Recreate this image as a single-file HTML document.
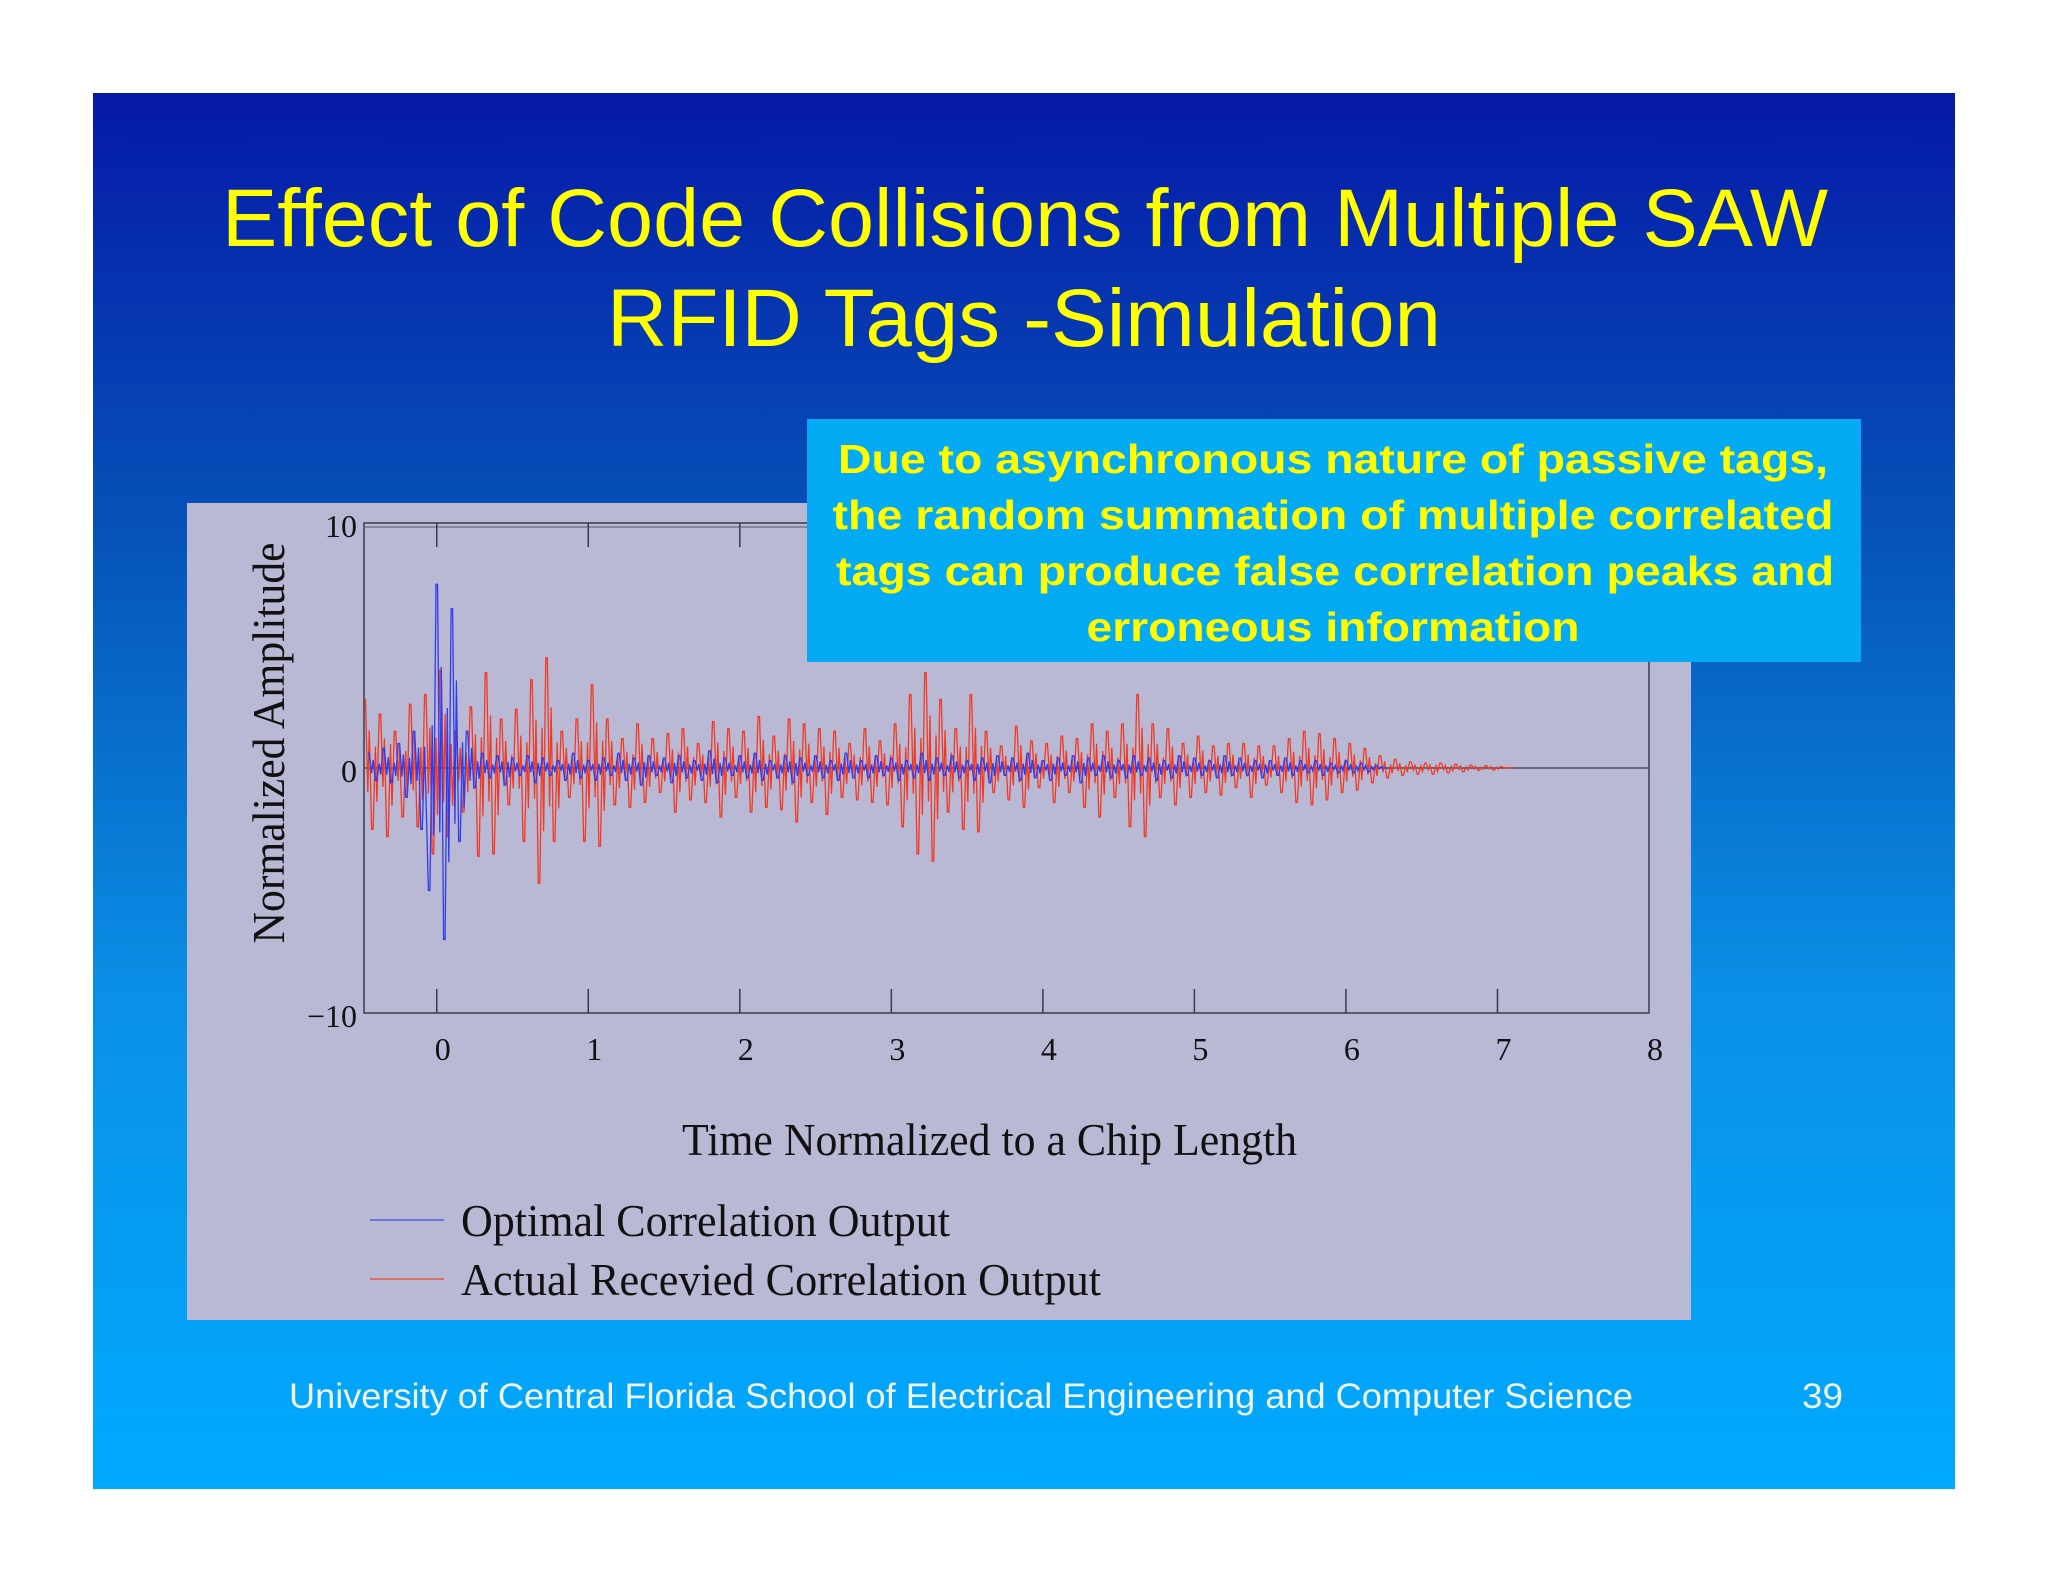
<!DOCTYPE html>
<html><head><meta charset="utf-8"><style>
html,body{margin:0;padding:0;background:#fff;}
svg{display:block;}
</style></head><body>
<svg id="slide" width="2048" height="1582" viewBox="0 0 2048 1582" xmlns="http://www.w3.org/2000/svg">
<defs>
<linearGradient id="bg" x1="0" y1="0" x2="0" y2="1">
<stop offset="0" stop-color="#0619a8"/>
<stop offset="0.3" stop-color="#0650b8"/>
<stop offset="0.65" stop-color="#0a90e6"/>
<stop offset="1" stop-color="#00aaff"/>
</linearGradient>
</defs>
<rect x="93" y="93" width="1862" height="1396" fill="url(#bg)"/>
<g fill="#ffff00" font-family="'Liberation Sans', Arial, sans-serif" font-size="82" text-anchor="middle">
<text x="1025" y="246" textLength="1606" lengthAdjust="spacingAndGlyphs">Effect of Code Collisions from Multiple SAW</text>
<text x="1024" y="346" textLength="834" lengthAdjust="spacingAndGlyphs">RFID Tags -Simulation</text>
</g>
<rect x="187" y="503" width="1504" height="817" fill="#b9b9d5"/>
<g id="plot"></g>
<g>
<rect x="807" y="419" width="1054" height="243" fill="#04aaf4"/>
<g fill="#ffff00" font-family="'Liberation Sans', Arial, sans-serif" font-size="41" font-weight="bold" text-anchor="middle">
<text x="1333" y="473" textLength="990" lengthAdjust="spacingAndGlyphs">Due to asynchronous nature of passive tags,</text>
<text x="1333" y="529" textLength="1001" lengthAdjust="spacingAndGlyphs">the random summation of multiple correlated</text>
<text x="1335" y="585" textLength="998" lengthAdjust="spacingAndGlyphs">tags can produce false correlation peaks and</text>
<text x="1333" y="641" textLength="493" lengthAdjust="spacingAndGlyphs">erroneous information</text>
</g></g>
<g fill="#f0f6ff" font-family="'Liberation Sans', Arial, sans-serif" font-size="35">
<text x="289" y="1408" textLength="1344" lengthAdjust="spacingAndGlyphs">University of Central Florida School of Electrical Engineering and Computer Science</text>
<text x="1802" y="1408" textLength="41" lengthAdjust="spacingAndGlyphs">39</text>
</g>
</svg>
<script>
const xTicks = [0,1,2,3,4,5,6,7,8];
const yTicks = [10,0,-10];
const xDomain = [-0.48, 8];
const yDomain = [-10, 10];
const redStart = -0.48, redStep = 0.05;
const redValues = [2.8,-2.5,2.2,-2.8,1.5,-2.0,2.6,-2.4,3.0,-3.5,4.0,-2.8,1.5,-1.8,2.5,-3.6,3.9,-3.5,2.0,-1.5,2.4,-3.0,3.6,-4.7,4.5,-3.0,1.5,-1.2,2.0,-3.0,3.4,-3.2,2.0,-1.5,1.2,-1.6,1.8,-1.4,1.2,-1.0,1.4,-1.8,1.6,-1.3,1.0,-1.4,1.9,-2.0,1.6,-1.2,1.5,-1.8,2.1,-1.6,1.3,-1.7,2.0,-2.2,1.8,-1.4,1.6,-1.9,1.5,-1.2,1.0,-1.3,1.6,-1.4,1.1,-1.5,1.8,-2.4,3.0,-3.5,3.9,-3.8,2.8,-1.8,1.6,-2.5,3.0,-2.6,1.5,-1.0,0.9,-1.3,1.7,-1.6,1.1,-0.8,1.0,-1.4,1.3,-1.0,1.2,-1.6,1.8,-2.0,1.5,-1.2,1.8,-2.4,3.0,-2.8,1.8,-1.2,1.6,-1.5,1.0,-1.2,1.3,-1.0,0.9,-1.1,1.0,-0.8,1.0,-1.2,0.9,-0.7,0.9,-1.0,1.2,-1.4,1.5,-1.5,1.4,-1.3,1.2,-1.0,1.0,-0.9,0.8,-0.6,0.5,-0.4,0.35,-0.3,0.25,-0.25,0.2,-0.25,0.2,-0.2,0.15,-0.15,0.12,-0.1,0.1,-0.08,0.05,0];
const blueStart = -0.455, blueStep = 0.05;
const blueValues = [0.6,-0.5,0.8,-0.6,1.0,-1.2,1.5,-2.5,-5.0,7.5,-7.0,6.5,-3.0,1.5,-0.8,0.6,-0.4,0.5,-0.7,0.4,-0.3,0.5,-0.6,0.4,-0.3,0.3,-0.5,0.6,-0.4,0.3,-0.5,0.4,-0.3,0.6,-0.5,0.4,-0.7,0.5,-0.3,0.4,-0.6,0.5,-0.4,0.3,-0.5,0.7,-0.6,0.4,-0.3,0.5,-0.4,0.6,-0.5,0.3,-0.4,0.5,-0.6,0.4,-0.3,0.5,-0.4,0.3,-0.5,0.6,-0.4,0.3,-0.4,0.5,-0.3,0.4,-0.5,0.3,-0.4,0.6,-0.5,0.4,-0.3,0.5,-0.4,0.3,-0.5,0.4,-0.6,0.5,-0.3,0.4,-0.5,0.6,-0.4,0.3,-0.5,0.4,-0.3,0.5,-0.6,0.4,-0.3,0.5,-0.4,0.3,-0.4,0.5,-0.3,0.4,-0.5,0.3,-0.4,0.5,-0.3,0.4,-0.3,0.3,-0.4,0.5,-0.3,0.4,-0.3,0.3,-0.4,0.3,-0.3,0.4,-0.3,0.3,-0.2,0.3,-0.3,0.2,-0.2,0.3,-0.2,0.2,-0.15,0.1,0];
const legendLabels = ["Optimal Correlation Output","Actual Recevied Correlation Output"];

const NS = "http://www.w3.org/2000/svg";
const PL = 364, PR = 1649, PT = 523, PB = 1013;
function xs(v){ return PL + (v - xDomain[0]) / (xDomain[1] - xDomain[0]) * (PR - PL); }
function ys(v){ return PB - (v - yDomain[0]) / (yDomain[1] - yDomain[0]) * (PB - PT); }
const plot = document.getElementById('plot');
function mk(tag, attrs){ const e = document.createElementNS(NS, tag); for (const k in attrs) e.setAttribute(k, attrs[k]); return e; }

const frame = mk('rect', {x:PL, y:PT, width:PR-PL, height:PB-PT, fill:'none', stroke:'#3a3a4a', 'stroke-width':1.5});


plot.appendChild(frame);
const top2 = mk('line', {x1:PL, x2:PR, y1:PT+4, y2:PT+4, stroke:'#55556a', 'stroke-width':1});


plot.appendChild(top2);

const zl = mk('line', {x1:PL, x2:PR, y1:ys(0), y2:ys(0), stroke:'#4a4a5a', 'stroke-width':1.5});


plot.appendChild(zl);

xTicks.forEach(t => {
  const x = xs(t);
  if (t < xDomain[1]) {
    const tb = mk('line', {x1:x, x2:x, y1:PB, y2:PB-24, stroke:'#3a3a4a', 'stroke-width':1.5});
    
    
    plot.appendChild(tb);
    const tt = mk('line', {x1:x, x2:x, y1:PT, y2:PT+24, stroke:'#3a3a4a', 'stroke-width':1.5});
    
    
    plot.appendChild(tt);
  }
  const lb = mk('text', {x:x+6, y:1060, 'text-anchor':'middle', 'font-family':"'Liberation Serif', serif", 'font-size':32, fill:'#111'});
  lb.textContent = String(t);
  
  
  plot.appendChild(lb);
});
yTicks.forEach(t => {
  const lb = mk('text', {x:357, y:ys(t)+14, 'text-anchor':'end', 'font-family':"'Liberation Serif', serif", 'font-size':32, fill:'#111'});
  lb.textContent = t < 0 ? '\u2212' + Math.abs(t) : String(t);
  
  
  plot.appendChild(lb);
});

// step-style series (sample held then vertical jump, plus mid-sample return spike)
function series(start, step, vals, color, name){
  let d = '';
  vals.forEach((v,i) => {
    const x0 = xs(start + i*step), x1 = xs(start + (i+0.5)*step), x2 = xs(start + (i+1)*step);
    const y = ys(v), yh = ys(v*0.55);
    if (i === 0) d += 'M' + x0.toFixed(1) + ',' + y.toFixed(1);
    else d += 'L' + x0.toFixed(1) + ',' + y.toFixed(1);
    d += 'L' + (x0+1.5).toFixed(1) + ',' + y.toFixed(1);
    d += 'L' + x1.toFixed(1) + ',' + ys(-v*0.35).toFixed(1);
    d += 'L' + (x1+1.5).toFixed(1) + ',' + yh.toFixed(1);
  });
  const p = mk('path', {d:d, fill:'none', stroke:color, 'stroke-width':1.3});
  
  
  plot.appendChild(p);
}
series(redStart, redStep, redValues, '#f03a22', 'actual-correlation-line');
series(blueStart, blueStep, blueValues, '#2e3cf0', 'optimal-correlation-line');

const yt = mk('text', {x:0, y:0, transform:'translate(284,743) rotate(-90)', 'text-anchor':'middle', 'font-family':"'Liberation Serif', serif", 'font-size':46, fill:'#111', textLength:401, lengthAdjust:'spacingAndGlyphs'});
yt.textContent = 'Normalized Amplitude';


plot.appendChild(yt);
const xt = mk('text', {x:682, y:1155, 'font-family':"'Liberation Serif', serif", 'font-size':46, fill:'#111', textLength:615, lengthAdjust:'spacingAndGlyphs'});
xt.textContent = 'Time Normalized to a Chip Length';


plot.appendChild(xt);

const legColors = ['#5060e0','#e05a40'];
const legY = [1220, 1279];
const legW = [489, 640];
legendLabels.forEach((lab,i) => {
  const ln = mk('line', {x1:370, x2:444, y1:legY[i], y2:legY[i], stroke:legColors[i], 'stroke-width':1.5});
  
  
  plot.appendChild(ln);
  const tx = mk('text', {x:461, y:legY[i]+16, 'font-family':"'Liberation Serif', serif", 'font-size':46, fill:'#111', textLength:legW[i], lengthAdjust:'spacingAndGlyphs'});
  tx.textContent = lab;
  
  
  plot.appendChild(tx);
});
</script>
</body></html>
